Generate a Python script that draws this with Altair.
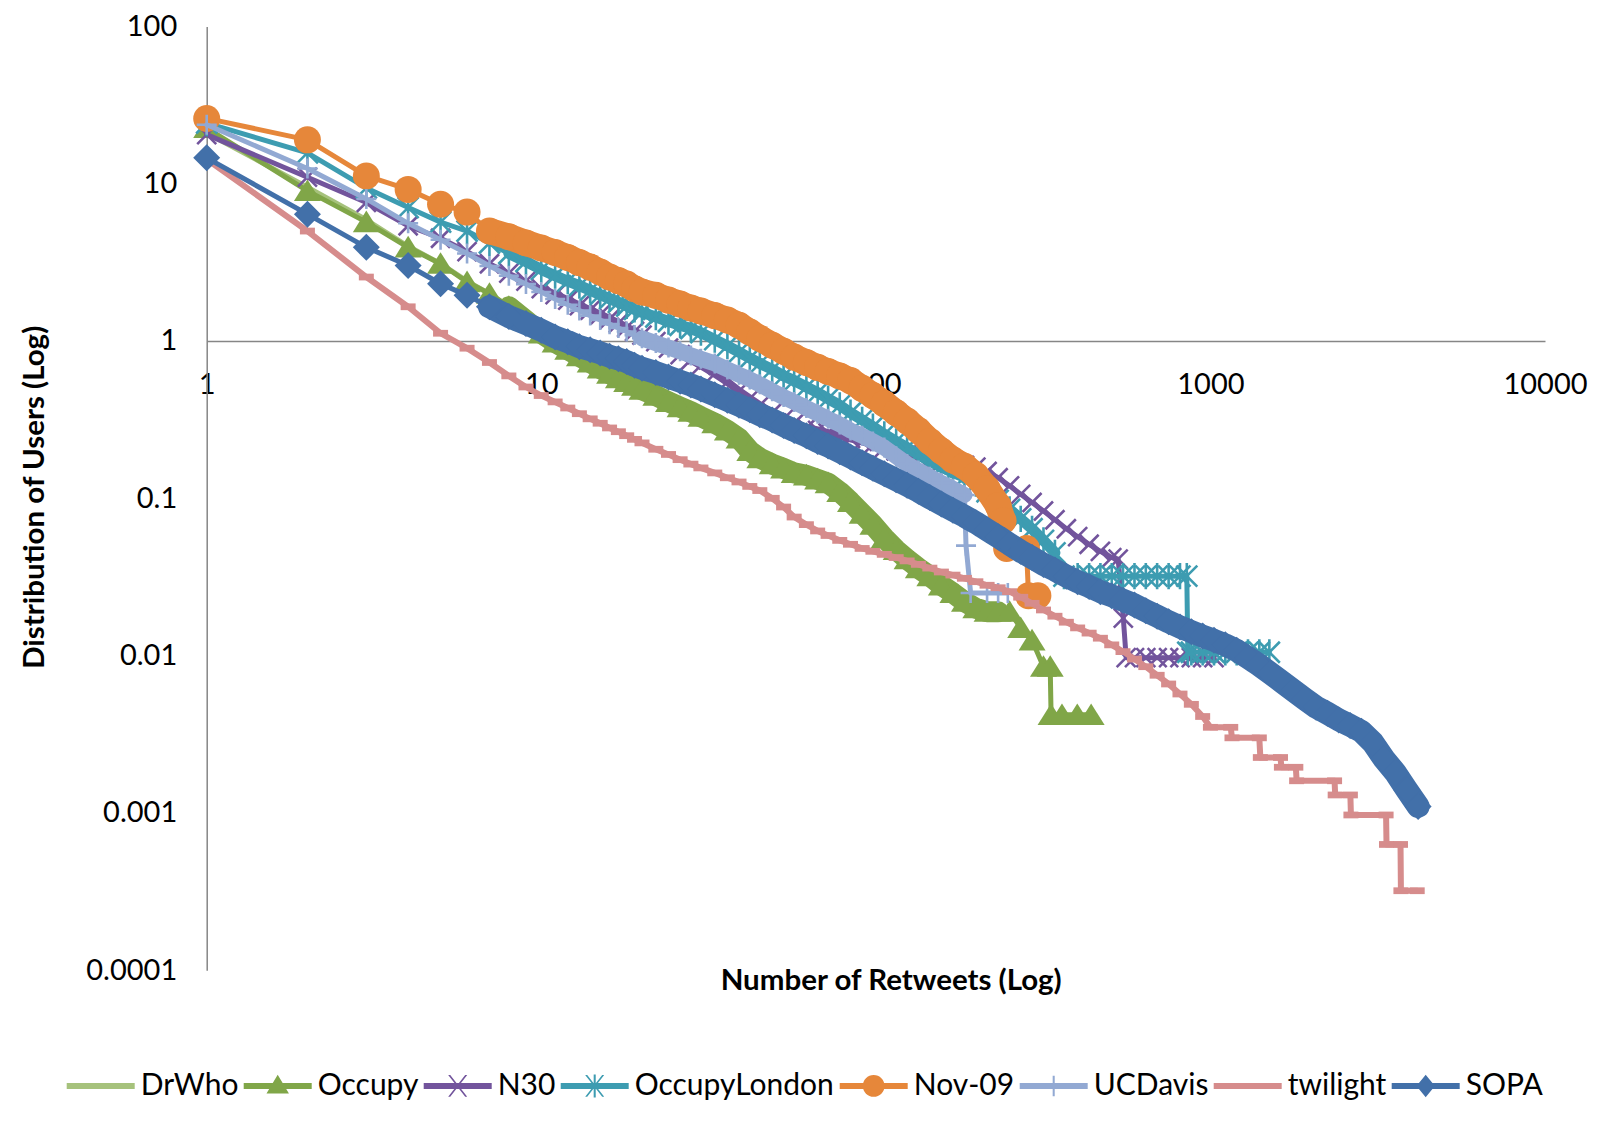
import altair as alt
import pandas as pd

# ---------------- data ----------------
SERIES = ["DrWho", "Occupy", "N30", "OccupyLondon", "Nov-09", "UCDavis", "twilight", "SOPA"]
COLORS = ["#A6C27C", "#80A648", "#72549C", "#3D9CB1", "#E6873A", "#92A9D3", "#D68C8C", "#4270A9"]

X_TICKS = [1, 10, 100, 1000, 10000]
Y_TICKS = [0.0001, 0.001, 0.01, 0.1, 1, 10, 100]

# retweet counts at which the curves were read
GRID = [1, 2, 3, 4, 5, 6, 7, 8, 9, 10,
        11, 12, 13, 14, 15, 16, 17, 18, 19, 20,
        22, 24, 26, 28, 30,
        33, 36, 39, 42, 45,
        49, 53, 57, 62, 67,
        72, 78, 84, 91, 98,
        106, 115, 124, 134, 145,
        157, 170, 184, 199, 215,
        232, 251, 271, 293, 317,
        343, 371, 401, 434, 469,
        507, 548, 593, 641, 693,
        750, 811, 877, 948, 1025,
        1108, 1198, 1295, 1400, 1514,
        1637, 1770, 1914, 2069, 2237,
        2419, 2615, 2827, 3057, 3305,
        3573, 3863, 4177]

DRWHO_Y = [21.0, 9.5, 5.9, 4.0, 3.1, 2.4, 2.0, 1.66, 1.36, 1.13]

OCCUPY_Y = [22.6, 9.0, 5.7, 3.94, 3.1, 2.37, 2.0, 1.65, 1.35, 1.12,
            0.98, 0.88, 0.8, 0.73, 0.67, 0.62, 0.58, 0.55, 0.52, 0.49,
            0.45, 0.41, 0.38, 0.355, 0.33,
            0.3, 0.27, 0.24, 0.2, 0.18,
            0.165, 0.155, 0.145, 0.14, 0.132,
            0.125, 0.11, 0.095, 0.08, 0.068,
            0.056, 0.047, 0.041, 0.036, 0.032,
            0.028, 0.025, 0.022, 0.02, 0.019,
            0.019, 0.019, 0.015, 0.0125, 0.0085]
OCCUPY_TAIL_X = [332, 334, 360, 400, 440]
OCCUPY_TAIL_Y = [0.0085, 0.0042, 0.0042, 0.0042, 0.0042]

N30_Y = [20.5, 11.0, 7.6, 5.4, 4.5, 3.7, 3.1, 2.7, 2.4, 2.15,
         1.97, 1.82, 1.68, 1.57, 1.47, 1.38, 1.3, 1.22, 1.15, 1.09,
         0.99, 0.9, 0.82, 0.76, 0.7,
         0.62, 0.55, 0.48, 0.43, 0.39,
         0.35, 0.32, 0.3, 0.28, 0.27,
         0.26, 0.25, 0.24, 0.23, 0.22,
         0.21, 0.2, 0.19, 0.182, 0.175,
         0.17, 0.165, 0.162, 0.158, 0.148,
         0.135, 0.12, 0.106, 0.094, 0.083,
         0.073, 0.064, 0.057, 0.051, 0.046,
         0.042]
N30_TAIL_X = [530, 549, 560, 593, 641, 693, 750, 811, 877, 948, 1025]
N30_TAIL_Y = [0.041, 0.0173, 0.0097, 0.0097, 0.0097, 0.0097, 0.0097, 0.0097, 0.0097, 0.0097, 0.0097]

LONDON_Y = [24.3, 15.7, 9.4, 7.05, 5.7, 5.0, 4.2, 3.6, 3.2, 2.85,
            2.6, 2.4, 2.25, 2.1, 1.97, 1.86, 1.76, 1.67, 1.59, 1.52,
            1.42, 1.33, 1.26, 1.2, 1.13,
            1.02, 0.93, 0.85, 0.78, 0.72,
            0.66, 0.6, 0.56, 0.51, 0.47,
            0.43, 0.39, 0.35, 0.315, 0.285,
            0.255, 0.23, 0.21, 0.19, 0.172,
            0.158, 0.146, 0.136, 0.124, 0.11,
            0.097, 0.085, 0.074, 0.064, 0.054,
            0.045]
LONDON_TAIL_X = [365, 401, 434, 469, 507, 548, 593, 641, 693, 750, 811, 850,
                 856, 877, 948, 1025, 1108, 1198, 1295, 1400, 1500]
LONDON_TAIL_Y = [0.032, 0.032, 0.032, 0.032, 0.032, 0.032, 0.032, 0.032, 0.032, 0.032, 0.032, 0.032,
                 0.0105, 0.0105, 0.0105, 0.0105, 0.0105, 0.0105, 0.0105, 0.0105, 0.0105]

NOV_Y = [26, 19, 11.2, 9.2, 7.4, 6.6, 5.0, 4.6, 4.2, 3.9,
         3.65, 3.4, 3.15, 2.95, 2.75, 2.55, 2.42, 2.3, 2.15, 2.05,
         1.95, 1.82, 1.72, 1.62, 1.55,
         1.45, 1.36, 1.26, 1.14, 1.04,
         0.94, 0.86, 0.79, 0.73, 0.68,
         0.64, 0.6, 0.56, 0.5, 0.45,
         0.4, 0.35, 0.31, 0.27, 0.23,
         0.2, 0.175, 0.16, 0.14, 0.115,
         0.09]
NOV_TAIL_X = [240, 246, 282, 286, 305]
NOV_TAIL_Y = [0.072, 0.048, 0.048, 0.024, 0.024]

UCD_Y = [23.7, 12.5, 8.0, 5.6, 4.4, 3.6, 3.0, 2.6, 2.3, 2.05,
         1.85, 1.7, 1.56, 1.45, 1.36, 1.28, 1.21, 1.15, 1.09, 1.04,
         0.97, 0.91, 0.86, 0.81, 0.77,
         0.72, 0.66, 0.61, 0.57, 0.53,
         0.48, 0.44, 0.41, 0.375, 0.345,
         0.32, 0.295, 0.27, 0.25, 0.23,
         0.21, 0.185, 0.165, 0.15, 0.137,
         0.125, 0.115, 0.105]
UCD_TAIL_X = [186, 192, 215, 232, 248]
UCD_TAIL_Y = [0.05, 0.025, 0.025, 0.025, 0.025]

TWI_Y = [14.3, 5.0, 2.55, 1.65, 1.12, 0.9, 0.73, 0.6, 0.51, 0.45,
         0.41, 0.375, 0.345, 0.32, 0.3, 0.28, 0.265, 0.25, 0.237, 0.225,
         0.205, 0.19, 0.176, 0.165, 0.156,
         0.145, 0.135, 0.127, 0.119, 0.112,
         0.1, 0.088, 0.076, 0.068, 0.062,
         0.058, 0.054, 0.051, 0.048, 0.046,
         0.044, 0.042, 0.04, 0.038, 0.036,
         0.034, 0.0325, 0.031, 0.0295, 0.028,
         0.027, 0.0255, 0.0235, 0.0215, 0.0195,
         0.0178, 0.0163, 0.015, 0.0139, 0.0129,
         0.0117, 0.0106, 0.0095, 0.0085, 0.0075,
         0.0066, 0.0057, 0.0049, 0.0041]
TWI_TAIL_X = [1000, 1150, 1160, 1400, 1410, 1620, 1630, 1800, 1810, 2350,
              2360, 2620, 2630, 3350, 3360, 3700, 3710, 4150]
TWI_TAIL_Y = [0.0035, 0.0035, 0.003, 0.003, 0.00225, 0.00225, 0.00195, 0.00195, 0.0016, 0.0016,
              0.0013, 0.0013, 0.00097, 0.00097, 0.00063, 0.00063, 0.00032, 0.00032]

SOPA_Y = [14.6, 6.4, 3.94, 3.02, 2.31, 1.95, 1.65, 1.43, 1.29, 1.17,
          1.06, 0.99, 0.92, 0.88, 0.84, 0.80, 0.77, 0.74, 0.70, 0.67,
          0.63, 0.59, 0.555, 0.525, 0.495,
          0.455, 0.42, 0.39, 0.365, 0.34,
          0.315, 0.29, 0.27, 0.25, 0.23,
          0.215, 0.198, 0.183, 0.168, 0.155,
          0.143, 0.131, 0.121, 0.111, 0.101,
          0.092, 0.084, 0.077, 0.070, 0.063,
          0.057, 0.051, 0.046, 0.042, 0.038,
          0.035, 0.032, 0.0295, 0.0275, 0.0255,
          0.024, 0.0225, 0.021, 0.0193, 0.0178,
          0.0164, 0.0152, 0.0142, 0.0133, 0.0125,
          0.0117, 0.0108, 0.0097, 0.0087, 0.0077,
          0.0068, 0.006, 0.0053, 0.0047, 0.0043,
          0.0039, 0.0036, 0.0033, 0.0028, 0.0022,
          0.0018, 0.0014, 0.0011]

SERIES_DATA = {
    "DrWho": (DRWHO_Y, [], []),
    "Occupy": (OCCUPY_Y, OCCUPY_TAIL_X, OCCUPY_TAIL_Y),
    "N30": (N30_Y, N30_TAIL_X, N30_TAIL_Y),
    "OccupyLondon": (LONDON_Y, LONDON_TAIL_X, LONDON_TAIL_Y),
    "Nov-09": (NOV_Y, NOV_TAIL_X, NOV_TAIL_Y),
    "UCDavis": (UCD_Y, UCD_TAIL_X, UCD_TAIL_Y),
    "twilight": (TWI_Y, TWI_TAIL_X, TWI_TAIL_Y),
    "SOPA": (SOPA_Y, [], []),
}

# ---------------- styles ----------------
FONT = "Lato"
LINE = "M-1,-0.09H1V0.09H-1Z"
MARKERS = {
    "Occupy": dict(shape="M0,-0.85L1,0.75L-1,0.75Z", size=729, filled=True),
    "N30": dict(shape="M-1,-1L1,1M-1,1L1,-1", size=361, filled=False, strokeWidth=2.6),
    "OccupyLondon": dict(shape="M-1,-1L1,1M-1,1L1,-1M0,-1.25L0,1.25", size=441, filled=False, strokeWidth=2.6),
    "Nov-09": dict(shape="circle", size=729, filled=True),
    "UCDavis": dict(shape="M-1,0L1,0M0,-1L0,1", size=400, filled=False, strokeWidth=2.6),
    "twilight": dict(shape="M-1,-0.45H1V0.45H-1Z", size=225, filled=True),
    "SOPA": dict(shape="M0,-1L1,0L0,1L-1,0Z", size=729, filled=True),
}
# where the markers sit so densely that they merge into a solid band
BANDS = {
    "Occupy": (8, 250, 21),
    "N30": (10, 100, 8),
    "OccupyLondon": (8, 343, 11),
    "Nov-09": (7, 240, 26),
    "UCDavis": (20, 184, 16),
    "SOPA": (7, 5000, 23),
}
LINE_WIDTH = {"twilight": 6}

X_MARK = ("M-0.28,-0.32L-0.22,-0.32L0.28,0.32L0.22,0.32Z"
          "M0.22,-0.32L0.28,-0.32L-0.22,0.32L-0.28,0.32Z")
LEGEND_PATHS = [
    LINE,
    LINE + "M0,-0.33L0.33,0.22L-0.33,0.22Z",
    LINE + X_MARK,
    LINE + X_MARK + "M-0.03,-0.34H0.03V0.34H-0.03Z",
    LINE + "M-0.32,0A0.32,0.32 0 1 1 0.32,0A0.32,0.32 0 1 1 -0.32,0Z",
    LINE + "M-0.03,-0.3H0.03V0.3H-0.03Z",
    LINE,
    LINE + "M0,-0.33L0.27,0L0,0.33L-0.27,0Z",
]

PLOT_W = 1338.3
PLOT_H = 943.8
PAD_TOP = 18.4
Y1 = PLOT_H * 2 / 6  # pixel row of value 1 inside the plot

x_axis = alt.Axis(
    values=X_TICKS, format="~g", grid=False, ticks=False, tickSize=0,
    domainColor="#868686", domainWidth=1.5,
    labelFont=FONT, labelFontSize=29, labelColor="#000000",
    labelPadding=44, labelBaseline="middle", labelFlush=False, labelOverlap=False,
    offset=Y1 - PLOT_H,
    title="Number of Retweets (Log)", titleFont=FONT, titleFontSize=29.5,
    titleFontWeight="bold", titleColor="#000000",
    titleX=684, titleY=639.5, titleAlign="center", titleBaseline="middle",
)
y_axis = alt.Axis(
    values=Y_TICKS, format="~g", grid=False, ticks=False, tickSize=0,
    domainColor="#868686", domainWidth=1.5,
    labelFont=FONT, labelFontSize=29, labelColor="#000000",
    labelPadding=30, labelFlush=False, labelOverlap=False,
    title="Distribution of Users (Log)", titleFont=FONT, titleFontSize=29.5,
    titleFontWeight="bold", titleColor="#000000",
    titleX=-172, titleY=470.4, titleAngle=270, titleAlign="center", titleBaseline="middle",
)


def xenc():
    return alt.X("x:Q", scale=alt.Scale(type="log", domain=[1, 10000], nice=False), axis=x_axis)


def yenc():
    return alt.Y("y:Q", scale=alt.Scale(type="log", domain=[0.0001, 100], nice=False), axis=y_axis)


layers = []
for name, color in zip(SERIES, COLORS):
    head, tx, ty = SERIES_DATA[name]
    xs = GRID[:len(head)] + list(tx)
    ys = list(head) + list(ty)
    df = pd.DataFrame({"x": xs, "y": ys, "i": list(range(len(xs)))})
    base = alt.Chart(df)
    layers.append(
        base.mark_line(color=color, strokeWidth=LINE_WIDTH.get(name, 5), strokeJoin="round", strokeCap="round")
        .encode(x=xenc(), y=yenc(), order="i:Q")
    )
    if name in BANDS:
        lo, hi, w = BANDS[name]
        layers.append(
            base.transform_filter((alt.datum.x >= lo) & (alt.datum.x <= hi))
            .mark_line(color=color, strokeWidth=w, strokeJoin="round", strokeCap="round")
            .encode(x=xenc(), y=yenc(), order="i:Q")
        )
    if name in MARKERS:
        m = MARKERS[name]
        kw = dict(shape=m["shape"], size=m["size"], filled=m["filled"], color=color, opacity=1)
        if not m["filled"]:
            kw["strokeWidth"] = m["strokeWidth"]
        layers.append(base.mark_point(**kw).encode(x=xenc(), y=yenc()))

legend = alt.Legend(
    title=None, orient="none", legendX=-140, legendY=1025.6,
    direction="horizontal", columns=8, columnPadding=5, rowPadding=0, padding=0,
    labelOffset=6, symbolSize=4624, symbolStrokeWidth=0, symbolOpacity=1,
    labelFont=FONT, labelFontSize=30, labelColor="#000000", labelLimit=400,
)
legend_df = pd.DataFrame({"lg": SERIES})
helper = alt.Chart(legend_df).mark_point(filled=True, opacity=0).encode(
    color=alt.Color("lg:N", scale=alt.Scale(domain=SERIES, range=COLORS), legend=legend),
    shape=alt.Shape("lg:N", scale=alt.Scale(domain=SERIES, range=LEGEND_PATHS), legend=legend),
)
layers.append(helper)

chart = (
    alt.layer(*layers)
    .properties(
        width=PLOT_W, height=PLOT_H,
        autosize=alt.AutoSizeParams(type="none"),
        padding={"left": 198.7, "top": PAD_TOP, "right": 50, "bottom": 133},
        background="white",
    )
    .configure_view(stroke=None)
)

chart.save("out.html", embed_options={"renderer": "svg", "actions": False})
